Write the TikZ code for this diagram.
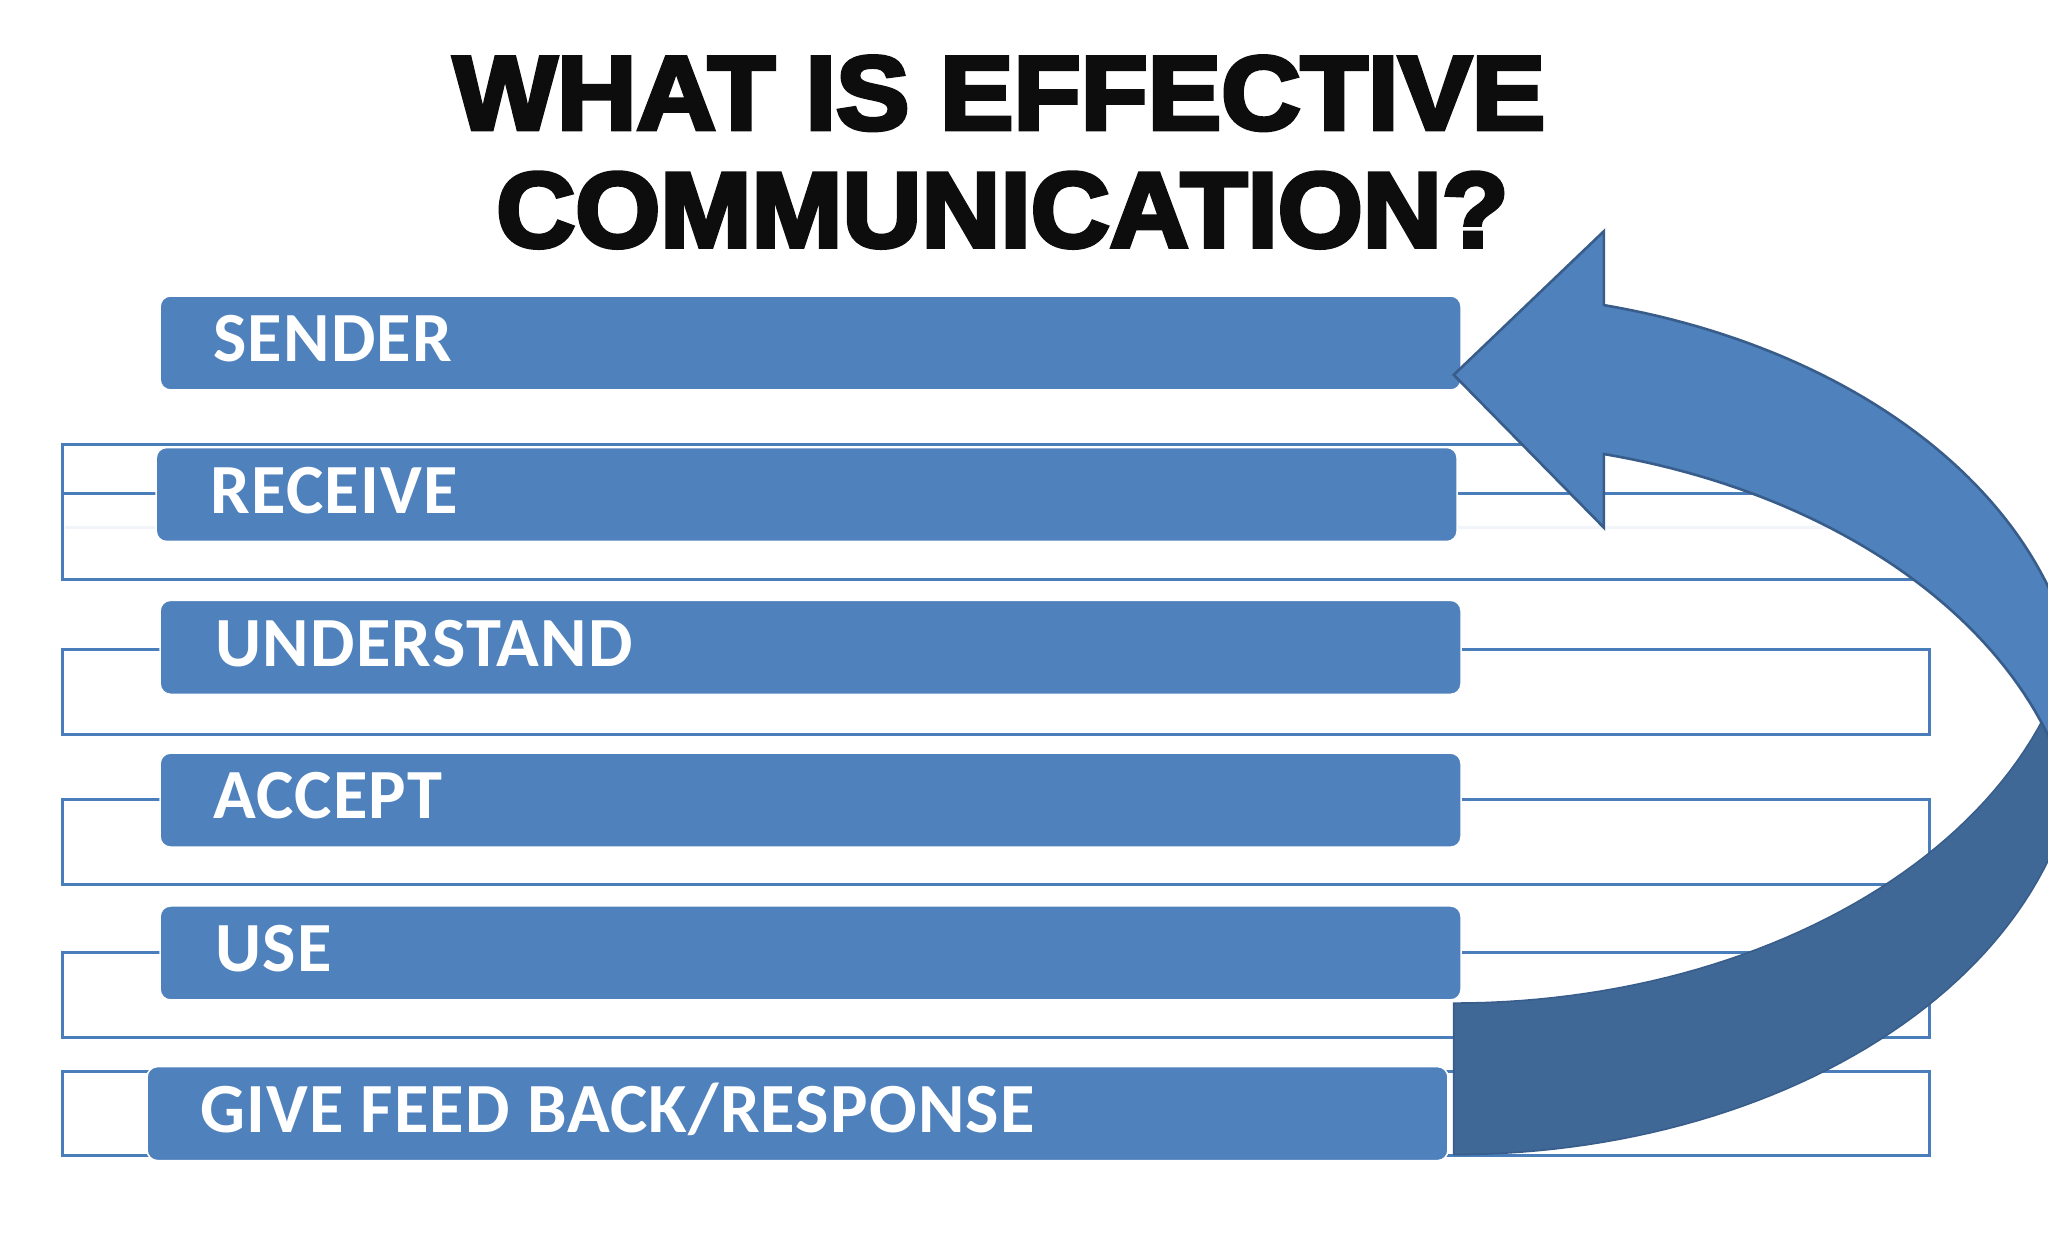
\documentclass[tikz,border=0pt]{standalone}
\usepackage{fontspec}
\usepackage{graphicx}
\newfontfamily\titlefont{Liberation Sans}[BoldFeatures={FakeBold=4}]
\newfontfamily\boxfont{Carlito}[LetterSpace=1.7]
\definecolor{boxblue}{HTML}{4F81BD}
\definecolor{rimblue}{HTML}{4A7EBB}
\definecolor{arrowfront}{HTML}{4F81BD}
\definecolor{arrowback}{HTML}{406896}
\definecolor{arrowline}{HTML}{385D8A}
\definecolor{titleblack}{HTML}{0D0D0D}
\begin{document}
\begin{tikzpicture}[x=1pt,y=-1pt,
  ttl/.style={inner sep=0pt, text=titleblack, line join=miter, miter limit=2, font=\titlefont\bfseries\fontsize{78pt}{80pt}\selectfont},
  bluebox/.style={rounded corners=8pt, fill=boxblue, draw=white, line width=1.2pt, inner sep=0pt, minimum width=996pt, minimum height=72pt, anchor=north west},
  lbl/.style={inner sep=0pt, anchor=base west, text=white, font=\boxfont\bfseries\fontsize{54pt}{60pt}\selectfont},
  outl/.style={draw=rimblue, line width=2.3pt, fill=white},
  outlnofill/.style={draw=rimblue, line width=2.3pt},
  bandfront/.style={fill=arrowfront, draw=arrowline, line width=2pt, line join=miter},
  bandback/.style={fill=arrowback, draw=arrowline, line width=1.2pt}
]
\path[use as bounding box] (0,0) rectangle (1568,952);
\clip (0,0) rectangle (1568,952);
\fill[white] (0,0) rectangle (1568,952);

% title
\node[ttl, anchor=base] (title1) at (765,99) {\resizebox{836pt}{56pt}{WHAT IS EFFECTIVE}};
\node[ttl, anchor=base] (title2) at (767.5,189) {\resizebox{775pt}{57pt}{COMMUNICATION?}};

% outline rectangles behind the boxes
\draw[outl] (48,340) rectangle (1477,444);
\draw[outlnofill] (48,378) rectangle (1477,444);
\draw[boxblue!8, line width=2pt] (50,404) -- (1475,404);
\draw[outl] (48,497) rectangle (1477,562);
\draw[outl] (48,612) rectangle (1477,677);
\draw[outl] (48,729) rectangle (1477,794);
\draw[outl] (48,820) rectangle (1477,885);

% blue boxes
\node[bluebox] (b1) at (122,226) {};
\node[bluebox] (b2) at (119,342) {};
\node[bluebox] (b3) at (122,459) {};
\node[bluebox] (b4) at (122,576) {};
\node[bluebox] (b5) at (122,693) {};
\node[bluebox] (b6) at (112,816) {};

\node[lbl] (t1) at (163,277) {SENDER};
\node[lbl] (t2) at (161,393) {RECEIVE};
\node[lbl] (t3) at (165,510) {UNDERSTAND};
\node[lbl] (t4) at (163,627) {ACCEPT};
\node[lbl] (t5) at (165,744) {USE};
\node[lbl] (t6) at (153,867) {GIVE FEED BACK/RESPONSE};

% curved arrow: back band
\path[bandback] (1593,554)
  -- plot[domain=0:90, samples=60] ({1113+480*cos(\x)},{554+330*sin(\x)})
  -- (1113,768)
  -- plot[domain=90:0, samples=60] ({1113+480*cos(\x)},{438+330*sin(\x)})
  -- cycle;
% curved arrow: front band with head
\path[bandfront] (1228,234)
  -- plot[domain=-76.14:0, samples=60] ({1113+480*cos(\x)},{554+330*sin(\x)})
  -- (1593,668)
  -- plot[domain=0:-76.14, samples=60] ({1113+480*cos(\x)},{668+330*sin(\x)})
  -- (1228,404) -- (1113,287) -- (1228,177) -- cycle;
\end{tikzpicture}
\end{document}
